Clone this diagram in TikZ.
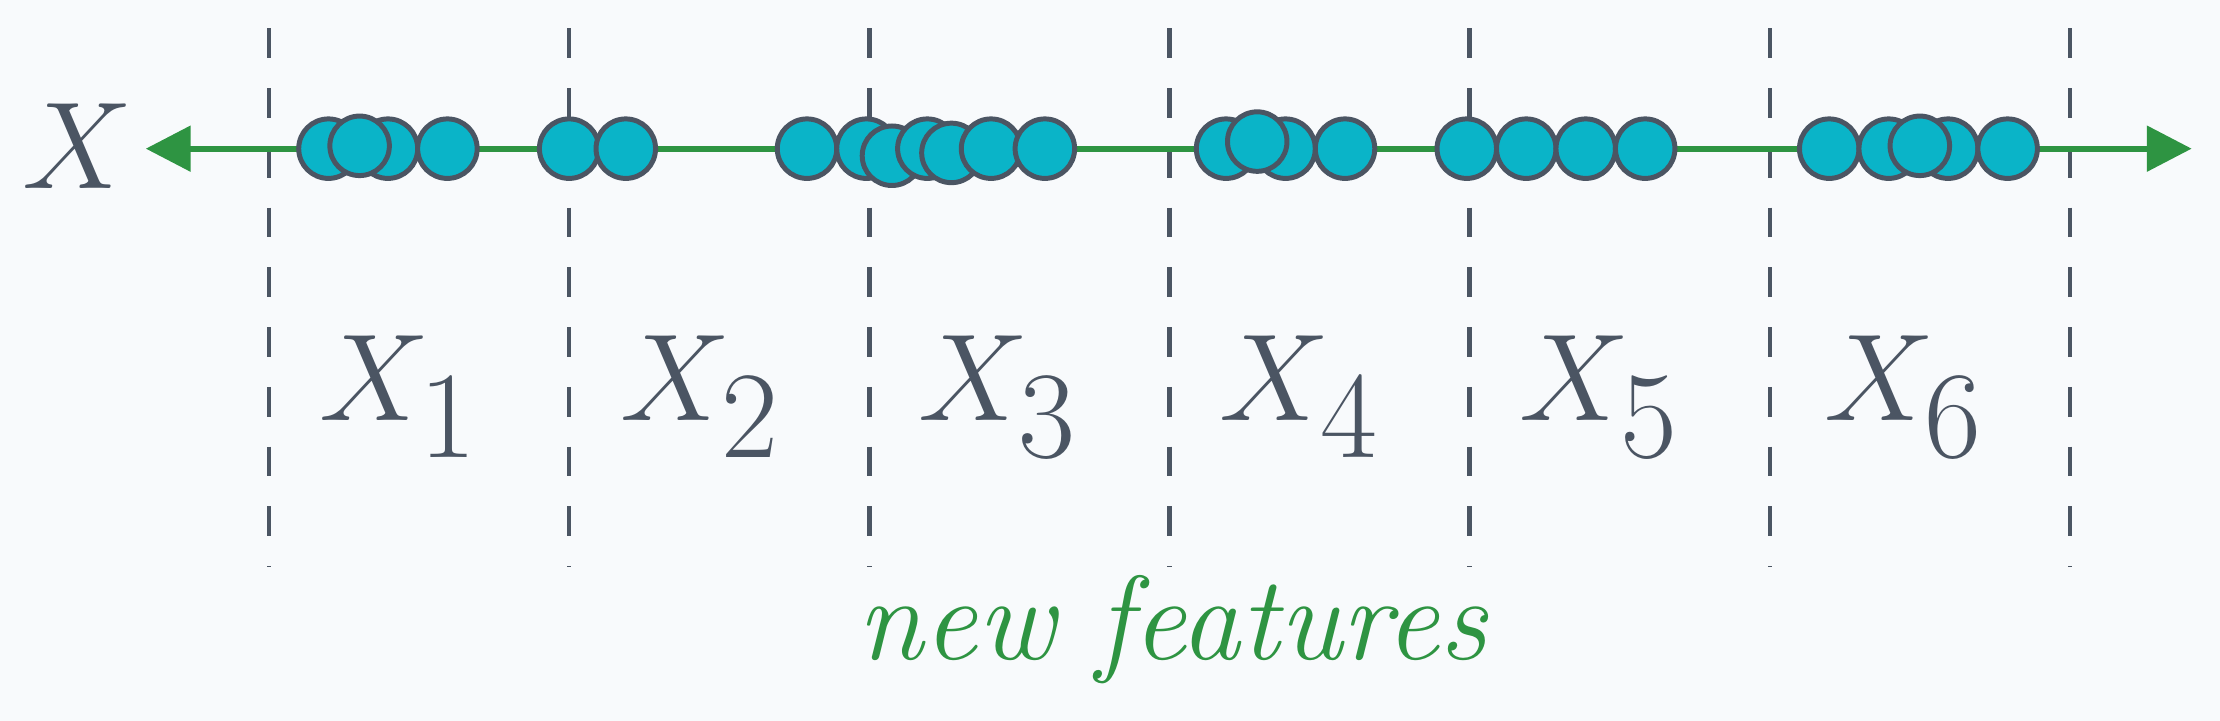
\documentclass[tikz,border=0pt]{standalone}
\usetikzlibrary{arrows.meta}
\definecolor{bg}{HTML}{F8FAFC}
\definecolor{ink}{HTML}{4B5563}
\definecolor{grn}{HTML}{2E9442}
\definecolor{cyn}{HTML}{0AB4C8}
\begin{document}
\begin{tikzpicture}[x=0.01cm,y=-0.01cm,
  dot/.style={circle,fill=cyn,draw=ink,line width=1pt,minimum size=0.42cm,inner sep=0pt},
  sep/.style={ink,line width=0.9pt,dash pattern=on 6pt off 6pt},
  lab/.style={text=ink,font=\fontsize{34}{40}\selectfont}]
\fill[bg] (0,0) rectangle (1568,509);
\useasboundingbox (0,0) rectangle (1568,509);
\foreach \x [count=\i] in {190,402,614,826,1038,1250,1462}
  {\coordinate (t\i) at (\x,20); \coordinate (b\i) at (\x,400); \draw[sep] (t\i) -- (b\i);}
\coordinate (L) at (103,105); \coordinate (R) at (1548,105);
\draw[grn,line width=1.2pt,{Triangle[length=9pt,width=9pt]}-{Triangle[length=9pt,width=9pt]}] (L) -- (R);
\node[lab] (X) at (55,103) {$X$};
\foreach \x/\y [count=\i] in {232/105,274/105,254/103,316/105,402/105,442/105,570/105,612/105,630/110,655/105,672/108,700/105,738/105,866/105,908/105,888/100,950/105,1036/105,1078/105,1120/105,1162/105,1292/105,1334/105,1376/105,1356/103,1418/105}
  \node[dot] (d\i) at (\x,\y) {};
\foreach \x/\n in {282/1,495/2,705/3,918/4,1130/5,1345/6}
  \node[lab] (x\n) at (\x,280) {$X_{\n}$};
\node[text=grn,font=\fontsize{24}{28}\selectfont\itshape] (nf) at (828,445) {new features};
\end{tikzpicture}
\end{document}
